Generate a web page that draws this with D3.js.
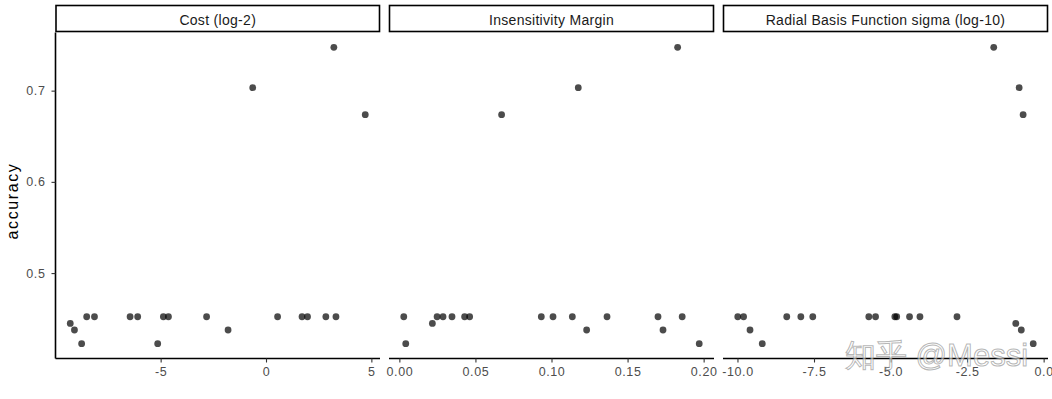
<!DOCTYPE html>
<html><head><meta charset="utf-8">
<script src="https://cdn.jsdelivr.net/npm/d3@7"></script>
<style>body{margin:0;background:#fff}svg{display:block}text{font-family:"Liberation Sans",Arial,sans-serif}</style>
</head><body><svg id="c" width="1052" height="399"></svg>
<script>
// Facet titles
const facets = ["Cost (log-2)", "Insensitivity Margin", "Radial Basis Function sigma (log-10)"];
// x values per facet (one per candidate) and matching accuracy
const costX = [-9.29, -9.09, -8.75, -8.51, -8.14, -6.45, -6.09, -5.14, -4.87, -4.63, -2.82, -1.80, 0.55, 1.71, 1.97, 2.84, 3.32, 3.22, -0.63, 4.71];
const costY = [0.4448, 0.4376, 0.4226, 0.4521, 0.4521, 0.4521, 0.4521, 0.4226, 0.4521, 0.4521, 0.4521, 0.4376, 0.4521, 0.4521, 0.4521, 0.4521, 0.4521, 0.7475, 0.7033, 0.6737];
const marginX = [0.0029, 0.0042, 0.0217, 0.0248, 0.0287, 0.0346, 0.0429, 0.0462, 0.0933, 0.1010, 0.1137, 0.1231, 0.1365, 0.1700, 0.1733, 0.1859, 0.1971, 0.1829, 0.1176, 0.0672];
const marginY = [0.4521, 0.4226, 0.4448, 0.4521, 0.4521, 0.4521, 0.4521, 0.4521, 0.4521, 0.4521, 0.4521, 0.4376, 0.4521, 0.4521, 0.4376, 0.4521, 0.4226, 0.7475, 0.7033, 0.6737];
const sigmaX = [-9.99, -9.80, -9.59, -9.19, -8.39, -7.93, -7.54, -5.71, -5.49, -4.86, -4.80, -4.38, -4.04, -2.83, -0.91, -0.73, -0.34, -1.63, -0.80, -0.67];
const sigmaY = [0.4521, 0.4521, 0.4376, 0.4226, 0.4521, 0.4521, 0.4521, 0.4521, 0.4521, 0.4521, 0.4521, 0.4521, 0.4521, 0.4521, 0.4448, 0.4376, 0.4226, 0.7475, 0.7033, 0.6737];
// tick labels
const costTicks = [-5, 0, 5];
const marginTicks = [0, 0.05, 0.10, 0.15, 0.20];
const sigmaTicks = [-10, -7.5, -5, -2.5, 0];
const yTicks = [0.5, 0.6, 0.7];
const yTitle = "accuracy";

const svg = d3.select("#c");
const pTop = 32.5, pBottom = 358.5;
const panelsPx = [[55.5, 380], [389, 714], [723, 1048]];
const allY = costY.concat(marginY, sigmaY);
function expand(ext){const r = ext[1]-ext[0]; return [ext[0]-0.05*r, ext[1]+0.05*r];}
const hy = f => v => d3.format(f)(v).replace("\u2212", "-");
const y = d3.scaleLinear().domain(expand(d3.extent(allY))).range([pBottom, pTop]);

const data = [
  {x: costX, y: costY, ticks: costTicks, fmt: hy("d")},
  {x: marginX, y: marginY, ticks: marginTicks, fmt: hy(".2f")},
  {x: sigmaX, y: sigmaY, ticks: sigmaTicks, fmt: hy(".1f")}
];

function styleTicks(sel){
  sel.selectAll(".tick line").attr("stroke", "#333").attr("stroke-width", 1.1);
  sel.selectAll(".tick text").attr("fill", "#4d4d4d").attr("font-size", "12.5px")
    .attr("letter-spacing", "0.6px")
    .attr("font-family", '"Liberation Sans",Arial,sans-serif');
}

data.forEach((d, i) => {
  const [x0, x1] = panelsPx[i];
  const x = d3.scaleLinear().domain(expand(d3.extent(d.x))).range([x0, x1]);
  const g = svg.append("g");
  // strip
  g.append("rect").attr("x", x0 + 0.5).attr("y", 5.5).attr("width", x1 - x0 - 1).attr("height", 26)
    .attr("fill", "#fff").attr("stroke", "#000").attr("stroke-width", 1.6);
  g.append("text").attr("x", (x0 + x1) / 2).attr("y", 24.5).attr("text-anchor", "middle")
    .attr("font-size", "14px").attr("letter-spacing", "0.3px").attr("fill", "#1a1a1a").text(facets[i]);
  // x axis
  const ax = g.append("g").attr("transform", `translate(0,${pBottom})`)
    .call(d3.axisBottom(x).tickValues(d.ticks).tickFormat(d.fmt).tickSize(4).tickPadding(4.5));
  ax.select(".domain").attr("stroke", "#000").attr("stroke-width", 1.6).attr("d", `M${x0},0H${x1}`);
  styleTicks(ax);
  // points
  g.selectAll("circle").data(d.x.map((v, k) => [v, d.y[k]])).join("circle")
    .attr("cx", p => x(p[0])).attr("cy", p => y(p[1])).attr("r", 3.4)
    .attr("fill", "#000").attr("fill-opacity", 0.7);
});

// y axis on first panel
const ay = svg.append("g").attr("transform", `translate(${panelsPx[0][0]},0)`)
  .call(d3.axisLeft(y).tickValues(yTicks).tickFormat(hy(".1f")).tickSize(4).tickPadding(6));
ay.select(".domain").attr("stroke", "#000").attr("stroke-width", 1.6).attr("d", `M0,${pTop}V${pBottom}`);
styleTicks(ay);
svg.append("text").attr("transform", `translate(18,201) rotate(-90)`)
  .attr("text-anchor", "middle").attr("font-size", "16px").attr("letter-spacing", "1.6px")
  .attr("fill", "#000").text(yTitle);

// watermark
svg.append("text").attr("x", 845).attr("y", 366).attr("font-size", "31px")
  .attr("font-family", '"Noto Sans CJK SC","Liberation Sans",sans-serif')
  .attr("fill", "rgba(255,255,255,0.55)").attr("stroke", "rgba(120,120,120,0.55)").attr("stroke-width", 1)
  .text("知乎 @Messi");
</script></body></html>
